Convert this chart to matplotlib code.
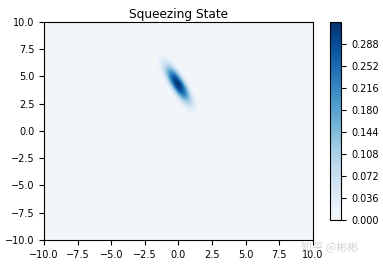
import matplotlib

matplotlib.use("Agg")
import matplotlib.pyplot as plt
import numpy as np
from matplotlib.colors import LinearSegmentedColormap

# squeezed-state Q function parameters
CENTER = [-0.05, 4.3]
SIGMA_MAJOR = 1.2
SIGMA_MINOR = 0.31
ANGLE_DEG = -64.0
PEAK = 1 / np.pi
CBAR_TICKS = [0.000, 0.036, 0.072, 0.108, 0.144, 0.180, 0.216, 0.252, 0.288]
AXIS_TICKS = [-10.0, -7.5, -5.0, -2.5, 0.0, 2.5, 5.0, 7.5, 10.0]

xs = np.linspace(-10, 10, 400)
ys = np.linspace(-10, 10, 400)
X, Y = np.meshgrid(xs, ys)
th = np.deg2rad(ANGLE_DEG)
dx, dy = X - CENTER[0], Y - CENTER[1]
u = dx * np.cos(th) + dy * np.sin(th)
v = -dx * np.sin(th) + dy * np.cos(th)
Q = PEAK * np.exp(-0.5 * (u / SIGMA_MAJOR) ** 2 - 0.5 * (v / SIGMA_MINOR) ** 2)

# Blues, with the white end a touch greyer like the reference
blues = plt.get_cmap("Blues")(np.linspace(0, 1, 256))
blues[0, :3] = [0.957, 0.965, 0.973]
blues[:12, :3] = np.linspace(blues[0, :3], blues[12, :3], 12)
cmap = LinearSegmentedColormap.from_list("blues_grey", blues)

plt.rcParams["font.size"] = 7
fig = plt.figure(figsize=(3.83, 2.64), dpi=100)
ax = fig.add_axes([0.115, 0.091, 0.702, 0.826])
cax = fig.add_axes([0.862, 0.167, 0.029, 0.750])

levels = np.linspace(0, 0.325, 120)
cs = ax.contourf(X, Y, Q, levels=levels, cmap=cmap)
ax.set_xticks(AXIS_TICKS)
ax.set_yticks(AXIS_TICKS)
ax.set_xlim(-10, 10)
ax.set_ylim(-10, 10)
ax.set_title("Squeezing State", fontsize=8.7, pad=3)

cb = fig.colorbar(cs, cax=cax)
cb.set_ticks(CBAR_TICKS)
cb.set_ticklabels([f"{t:.3f}" for t in CBAR_TICKS])

fig.text(0.785, 0.05, "知乎 @彬彬", fontsize=8, color="#c8c8c8",
         family=["Noto Sans CJK SC", "DejaVu Sans"], alpha=0.8)

fig.savefig("out.png", dpi=100)
